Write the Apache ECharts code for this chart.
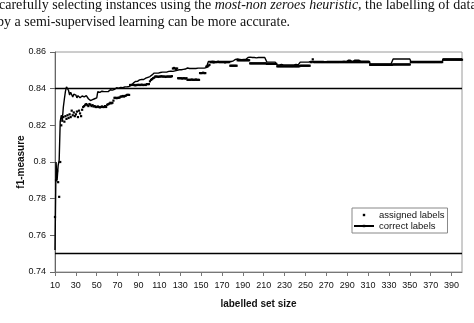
<!DOCTYPE html>
<html>
<head>
<meta charset="utf-8">
<script src="https://cdn.jsdelivr.net/npm/echarts@6/dist/echarts.min.js"></script>
<style>
  html, body { margin: 0; padding: 0; background: #fff; }
  #chart { width: 474px; height: 323px; }
</style>
</head>
<body>
<div id="chart"></div>
<script>
// Labelled set sizes run from 10 to 400, one measurement per size
const sizeFirst = 10;
const sizeLast = 400;

// f1-measure of the classifier trained on the correct labels (n = 10 .. 400)
const correctLabels = [
  0.752, 0.800, 0.790, 0.798, 0.801, 0.822, 0.8255, 0.823, 0.830, 0.8345,
  0.8385, 0.841, 0.8415, 0.839, 0.8365, 0.838, 0.8375, 0.8355, 0.837, 0.836,
  0.8365, 0.835, 0.8362, 0.8355, 0.835, 0.8345, 0.836, 0.8367, 0.8355, 0.836,
  0.8362, 0.8355, 0.8345, 0.834, 0.8335, 0.8345, 0.834, 0.833, 0.8345, 0.8355,
  0.835, 0.8384, 0.8384, 0.838, 0.8384, 0.8386, 0.8384, 0.8384, 0.8382, 0.8384,
  0.8386, 0.8384, 0.8384, 0.8394, 0.8394, 0.8392, 0.8394, 0.8396, 0.8394, 0.8405,
  0.8405, 0.8403, 0.8405, 0.8407, 0.8405, 0.8405, 0.841, 0.841, 0.8412, 0.841,
  0.841, 0.8412, 0.8415, 0.8418, 0.842, 0.843, 0.843, 0.8439, 0.8439, 0.844,
  0.8445, 0.8448, 0.8448, 0.845, 0.845, 0.845, 0.8457, 0.8457, 0.846, 0.8462,
  0.8466, 0.8466, 0.847, 0.8475, 0.848, 0.8485, 0.8485, 0.8485, 0.8487, 0.8485,
  0.8485, 0.8488, 0.849, 0.849, 0.849, 0.849, 0.8492, 0.849, 0.8494, 0.8494,
  0.8494, 0.8496, 0.8494, 0.8494, 0.8494, 0.8497, 0.850, 0.850, 0.8503, 0.8503,
  0.8503, 0.8503, 0.8505, 0.8505, 0.8505, 0.8507, 0.8513, 0.8513, 0.851, 0.851,
  0.851, 0.851, 0.8512, 0.851, 0.851, 0.851, 0.8512, 0.8512, 0.851, 0.8512,
  0.8512, 0.8512, 0.8515, 0.8512, 0.8512, 0.8515, 0.8515, 0.8548, 0.8548, 0.8548,
  0.8548, 0.855, 0.8548, 0.8548, 0.8548, 0.8546, 0.8548, 0.8548, 0.855, 0.8548,
  0.8548, 0.8548, 0.8546, 0.8548, 0.8548, 0.8548, 0.855, 0.8548, 0.8548, 0.8548,
  0.8548, 0.8552, 0.856, 0.856, 0.856, 0.8562, 0.856, 0.856, 0.856, 0.8558,
  0.856, 0.856, 0.856, 0.856, 0.857, 0.857, 0.857, 0.8572, 0.857, 0.857,
  0.857, 0.857, 0.857, 0.8568, 0.857, 0.857, 0.857, 0.857, 0.8572, 0.857,
  0.857, 0.857, 0.857, 0.8545, 0.8545, 0.8545, 0.8543, 0.8545, 0.8545, 0.8545,
  0.8545, 0.8545, 0.8545, 0.853, 0.853, 0.853, 0.853, 0.8532, 0.853, 0.853,
  0.853, 0.853, 0.853, 0.853, 0.8528, 0.853, 0.853, 0.853, 0.853, 0.853,
  0.853, 0.8532, 0.853, 0.853, 0.853, 0.8545, 0.8545, 0.8545, 0.8545, 0.8545,
  0.8545, 0.8545, 0.8545, 0.8545, 0.8545, 0.8548, 0.8548, 0.8548, 0.8548, 0.8548,
  0.8548, 0.8548, 0.855, 0.8548, 0.8548, 0.8548, 0.8548, 0.8548, 0.8548, 0.8546,
  0.8548, 0.8548, 0.8548, 0.8548, 0.855, 0.8548, 0.8548, 0.8548, 0.8548, 0.8548,
  0.8548, 0.8548, 0.8546, 0.8548, 0.8548, 0.8548, 0.8548, 0.855, 0.8548, 0.8548,
  0.8548, 0.8555, 0.8555, 0.8555, 0.8555, 0.8548, 0.8548, 0.8555, 0.8555, 0.8555,
  0.8555, 0.8555, 0.8555, 0.855, 0.855, 0.855, 0.855, 0.855, 0.855, 0.855,
  0.855, 0.855, 0.8535, 0.8535, 0.8535, 0.8535, 0.8535, 0.8535, 0.8535, 0.8535,
  0.8535, 0.8535, 0.8535, 0.8535, 0.8535, 0.8535, 0.8535, 0.8535, 0.8535, 0.8535,
  0.8535, 0.8535, 0.8535, 0.8535, 0.8562, 0.8562, 0.8562, 0.8562, 0.8562, 0.8562,
  0.8562, 0.8562, 0.8562, 0.8562, 0.8562, 0.8562, 0.8562, 0.8562, 0.8562, 0.8562,
  0.8562, 0.8548, 0.8548, 0.8548, 0.8548, 0.8548, 0.8548, 0.8548, 0.8548, 0.8548,
  0.8548, 0.8548, 0.8548, 0.8548, 0.8548, 0.8548, 0.8548, 0.8548, 0.8548, 0.8548,
  0.8548, 0.8548, 0.8548, 0.8548, 0.8548, 0.8548, 0.8548, 0.8548, 0.8548, 0.8548,
  0.8548, 0.8548, 0.8562, 0.8562, 0.8562, 0.8562, 0.8562, 0.8562, 0.8562, 0.8562,
  0.8562, 0.8562, 0.8562, 0.8562, 0.8562, 0.8562, 0.8562, 0.8562, 0.8562, 0.8562,
  0.8562
];

// f1-measure of the classifier trained on the automatically assigned labels
const assignedLabels = [
  0.770, 0.790, 0.795, 0.789, 0.781, 0.800, 0.820, 0.8225, 0.8245, 0.822,
  0.825, 0.8235, 0.8255, 0.824, 0.826, 0.8245, 0.828, 0.8255, 0.827, 0.825,
  0.826, 0.8275, 0.8245, 0.828, 0.8265, 0.825, 0.8285, 0.830, 0.8305, 0.8312,
  0.8316, 0.831, 0.8305, 0.8316, 0.8312, 0.8305, 0.831, 0.8303, 0.8305, 0.830,
  0.830, 0.8303, 0.830, 0.8298, 0.830, 0.8303, 0.830, 0.830, 0.8305, 0.830,
  0.8312, 0.8315, 0.8318, 0.8323, 0.832, 0.8323, 0.8335, 0.835, 0.835, 0.8348,
  0.835, 0.835, 0.8352, 0.8357, 0.8357, 0.836, 0.8357, 0.836, 0.8362, 0.8366,
  0.8366, 0.8366, 0.842, 0.842, 0.8421, 0.842, 0.842, 0.8418, 0.842, 0.842,
  0.8421, 0.842, 0.842, 0.8422, 0.842, 0.842, 0.8421, 0.842, 0.8425, 0.8425,
  0.8425, 0.844, 0.8448, 0.8452, 0.8457, 0.846, 0.8466, 0.8466, 0.8466, 0.8464,
  0.8466, 0.8466, 0.8468, 0.8466, 0.8466, 0.8466, 0.8464, 0.8466, 0.8466, 0.8466,
  0.8466, 0.8466, 0.8468, 0.851, 0.8513, 0.851, 0.8508, 0.851, 0.8457, 0.8457,
  0.8457, 0.8457, 0.8455, 0.8457, 0.8457, 0.8455, 0.8457, 0.8448, 0.8448, 0.8448,
  0.8448, 0.845, 0.8448, 0.8448, 0.8448, 0.845, 0.8448, 0.8448, 0.8448, 0.8485,
  0.8485, 0.8485, 0.8487, 0.8485, 0.8485, 0.852, 0.852, 0.8525, 0.853, 0.8545,
  0.8545, 0.8545, 0.8543, 0.8545, 0.8545, 0.8545, 0.8547, 0.8545, 0.8545, 0.8545,
  0.8545, 0.8545, 0.8545, 0.8543, 0.8545, 0.8545, 0.8545, 0.8545, 0.8525, 0.8525,
  0.8525, 0.8525, 0.8525, 0.8525, 0.8525, 0.8555, 0.8555, 0.8555, 0.8555, 0.8555,
  0.8555, 0.8555, 0.8555, 0.8555, 0.8555, 0.8555, 0.8555, 0.8538, 0.8538, 0.8538,
  0.8538, 0.8538, 0.8538, 0.8538, 0.8538, 0.8538, 0.8538, 0.8538, 0.8538, 0.8538,
  0.8538, 0.8538, 0.8538, 0.8535, 0.8535, 0.8535, 0.8535, 0.8535, 0.8535, 0.8535,
  0.8535, 0.8535, 0.8535, 0.8522, 0.8522, 0.8522, 0.8522, 0.8522, 0.8522, 0.8522,
  0.8522, 0.8522, 0.8522, 0.8522, 0.8522, 0.8522, 0.8522, 0.8522, 0.8522, 0.8522,
  0.8522, 0.8522, 0.8522, 0.8522, 0.8522, 0.8525, 0.8525, 0.8525, 0.8525, 0.8525,
  0.8525, 0.8525, 0.8525, 0.8525, 0.8525, 0.8545, 0.8545, 0.856, 0.8545, 0.8545,
  0.8545, 0.8545, 0.8545, 0.8545, 0.8545, 0.8545, 0.8545, 0.8545, 0.8545, 0.8545,
  0.8545, 0.8545, 0.8545, 0.8545, 0.8545, 0.8545, 0.8545, 0.8545, 0.8545, 0.8545,
  0.8545, 0.8545, 0.8545, 0.8545, 0.8545, 0.8545, 0.8545, 0.8545, 0.8545, 0.8545,
  0.8545, 0.8545, 0.8545, 0.8545, 0.8545, 0.8545, 0.8545, 0.8545, 0.8545, 0.8545,
  0.8545, 0.8545, 0.8545, 0.8545, 0.8545, 0.8545, 0.8545, 0.8545, 0.8545, 0.8545,
  0.8545, 0.8545, 0.853, 0.853, 0.853, 0.853, 0.853, 0.853, 0.853, 0.853,
  0.853, 0.853, 0.853, 0.853, 0.853, 0.853, 0.853, 0.853, 0.853, 0.853,
  0.853, 0.853, 0.853, 0.853, 0.8532, 0.8532, 0.8532, 0.8532, 0.8532, 0.8532,
  0.8532, 0.8532, 0.8532, 0.8532, 0.8532, 0.8532, 0.8532, 0.8532, 0.8532, 0.8532,
  0.8532, 0.8545, 0.8545, 0.8545, 0.8545, 0.8545, 0.8545, 0.8545, 0.8545, 0.8545,
  0.8545, 0.8545, 0.8545, 0.8545, 0.8545, 0.8545, 0.8545, 0.8545, 0.8545, 0.8545,
  0.8545, 0.8545, 0.8545, 0.8545, 0.8545, 0.8545, 0.8545, 0.8545, 0.8545, 0.8545,
  0.8545, 0.8545, 0.8558, 0.8558, 0.8558, 0.8558, 0.8558, 0.8558, 0.8558, 0.8558,
  0.8558, 0.8558, 0.8558, 0.8558, 0.8558, 0.8558, 0.8558, 0.8558, 0.8558, 0.8558,
  0.8558
];

// Horizontal reference levels of f1-measure
const referenceLevels = [0.842, 0.752];

// Value axis range
const yMin = 0.74;
const yMax = 0.86;
const yStep = 0.02;

const setSizes = [];
for (let n = sizeFirst; n <= sizeLast; n++) setSizes.push(String(n));

const sans = '"Liberation Sans", Arial, sans-serif';
const serif = '"Liberation Serif", "Times New Roman", serif';

const chart = echarts.init(document.getElementById('chart'), null, { renderer: 'canvas' });

chart.setOption({
  animation: false,
  backgroundColor: '#fff',
  graphic: [
    {
      type: 'text', left: -1, top: -2,
      style: {
        text: '{n|carefully selecting instances using the }{i|most-non zeroes heuristic,}{n| the labelling of data}',
        rich: {
          n: { fontFamily: serif, fontSize: 14, fill: '#111' },
          i: { fontFamily: serif, fontSize: 14, fontStyle: 'italic', fill: '#111' }
        }
      }
    },
    {
      type: 'text', left: -3, top: 15,
      style: {
        text: 'by a semi-supervised learning can be more accurate.',
        fontFamily: serif, fontSize: 14, fill: '#111'
      }
    }
  ],
  grid: {
    left: 55, right: 12, top: 52, bottom: 51,
    show: true, borderColor: '#9a9a9a', borderWidth: 1, backgroundColor: '#fff'
  },
  legend: {
    orient: 'vertical',
    left: 352, top: 208,
    data: ['assigned labels', 'correct labels'],
    itemWidth: 20, itemHeight: 3, itemGap: 1,
    padding: [2, 3, 2, 1],
    borderColor: '#888', borderWidth: 1, backgroundColor: '#fff',
    textStyle: { fontFamily: sans, fontSize: 9.5, color: '#111', lineHeight: 10 }
  },
  xAxis: {
    type: 'category',
    data: setSizes,
    boundaryGap: false,
    name: 'labelled set size',
    nameLocation: 'middle',
    nameGap: 27,
    nameMoveOverlap: false,
    nameTextStyle: { fontFamily: sans, fontSize: 10, fontWeight: 'bold', color: '#111' },
    axisLine: { lineStyle: { color: '#777', width: 1 } },
    axisTick: { show: true, interval: 19, length: 4, lineStyle: { color: '#777' } },
    axisLabel: { interval: 19, margin: 9, fontFamily: sans, fontSize: 9, color: '#111' },
    splitLine: { show: false }
  },
  yAxis: {
    type: 'value',
    min: yMin, max: yMax, interval: yStep,
    name: 'f1-measure',
    nameLocation: 'middle',
    nameGap: 29,
    nameMoveOverlap: false,
    nameRotate: 90,
    nameTextStyle: { fontFamily: sans, fontSize: 10, fontWeight: 'bold', color: '#111' },
    axisLine: { show: true, lineStyle: { color: '#666', width: 1 } },
    axisTick: { show: true, length: 5, lineStyle: { color: '#666' } },
    axisLabel: { margin: 9, fontFamily: sans, fontSize: 9, color: '#111' },
    splitLine: { show: false }
  },
  series: [
    {
      // markers only: the connecting line is hidden
      name: 'assigned labels',
      type: 'line',
      data: assignedLabels,
      symbol: 'rect',
      symbolSize: 2.2,
      showSymbol: true,
      showAllSymbol: true,
      lineStyle: { width: 0, opacity: 0 },
      itemStyle: { color: '#000' },
      z: 3
    },
    {
      name: 'correct labels',
      type: 'line',
      data: correctLabels,
      symbol: 'rect',
      symbolSize: 2,
      showSymbol: false,
      lineStyle: { color: '#000', width: 1.4 },
      itemStyle: { color: '#000' },
      z: 4,
      markLine: {
        silent: true,
        symbol: 'none',
        label: { show: false },
        lineStyle: { color: '#000', width: 1.4, type: 'solid' },
        data: referenceLevels.map(v => ({ yAxis: v }))
      }
    }
  ]
});
</script>
</body>
</html>
